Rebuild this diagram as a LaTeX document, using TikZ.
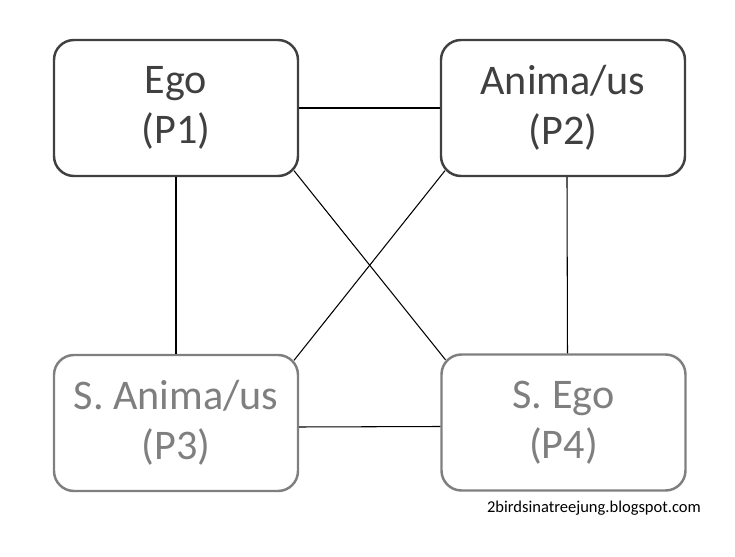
\documentclass[tikz,border=0pt]{standalone}
\usepackage{fontspec}
\setmainfont{Carlito}
\definecolor{darkbox}{HTML}{404040}
\definecolor{greybox}{HTML}{7F7F7F}
\begin{document}
\begin{tikzpicture}[
  rolebox/.style={draw, rectangle, rounded corners=0.2cm, line width=0.7pt,
    minimum width=2.44cm, minimum height=1.36cm, inner sep=0pt, align=center,
    font=\fontsize{12}{14.2}\selectfont},
  link/.style={line width=0.3pt}]
\useasboundingbox (0,0) rectangle (7.35,-5.57);

\node[rolebox, draw=darkbox, text=darkbox] (p1) at (1.76,-1.08) {Ego\\(P1)};
\node[rolebox, draw=darkbox, text=darkbox] (p2) at (5.63,-1.08) {Anima/us\\(P2)};
\node[rolebox, draw=greybox, text=greybox] (p3) at (1.76,-4.23) {S. Anima/us\\(P3)};
\node[rolebox, draw=greybox, text=greybox] (p4) at (5.635,-4.225) {S. Ego\\(P4)};

\draw[link] (p1) -- (p2);
\draw[link] (p1) -- (p3);
\draw[link] ([xshift=0.04cm]p2.south) -- ([xshift=0.04cm]p4.north);
\draw[link] ([yshift=-0.04cm]p3.east) -- ([yshift=-0.04cm]p4.west);
\draw[link, shorten <=-2.4pt, shorten >=-2.4pt] (p1.south east) -- (p4.north west);
\draw[link, shorten <=-2.4pt, shorten >=-2.4pt] (p2.south west) -- (p3.north east);

\node[font=\fontsize{4.7}{5.6}\selectfont] (site) at (5.94,-5.08) {2birdsinatreejung.blogspot.com};
\end{tikzpicture}
\end{document}
